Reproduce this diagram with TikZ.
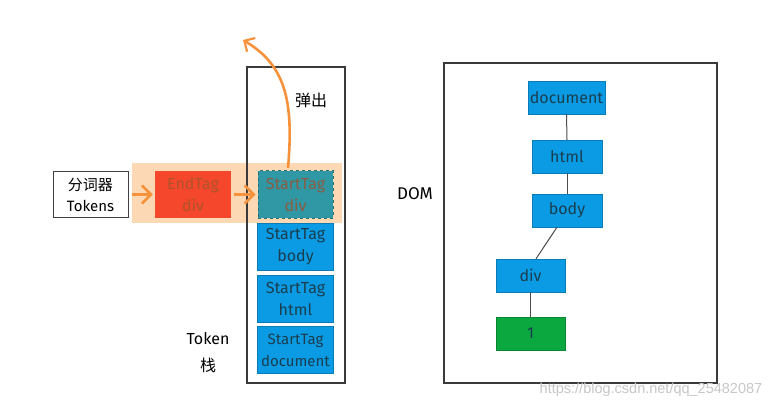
\documentclass[tikz,border=0pt]{standalone}
\usepackage{fontspec}
\setmainfont{Fira Sans}
\newfontfamily\cjk{Noto Sans CJK SC}
\newfontfamily\wm{Liberation Sans}
\usetikzlibrary{arrows.meta}
\definecolor{bluef}{HTML}{0A9BE4}
\definecolor{boxtext}{HTML}{1A3E4E}
\definecolor{greenf}{HTML}{0BA83F}
\definecolor{redf}{HTML}{F4472B}
\definecolor{tealf}{HTML}{2F98A4}
\definecolor{tealb}{HTML}{2A6E74}
\definecolor{bandc}{HTML}{FCD9B4}
\definecolor{arrc}{HTML}{F7923C}
\definecolor{endtext}{HTML}{B0532C}
\definecolor{divtext}{HTML}{8A5C42}
\definecolor{framec}{HTML}{3A3A3A}
\begin{document}
\begin{tikzpicture}[x=1pt,y=-1pt,
  every node/.style={inner sep=0pt,font=\fontsize{16}{22}\selectfont,align=center},
  tagbox/.style={fill=bluef,draw=bluef!80!black,line width=0.4pt,text=boxtext,minimum width=#1,anchor=center},
  stackbox/.style={tagbox=76pt,minimum height=47pt},
  dombox/.style={tagbox=#1,minimum height=33pt},
  frame/.style={draw=framec,line width=1.3pt},
  flow/.style={draw=arrc,line width=2.6pt,-{Straight Barb[length=9pt,width=18pt,line width=2.6pt]}},
  tree/.style={draw=black!70,line width=1pt}]
\useasboundingbox (0,0) rectangle (782,409);
\fill[white] (0,0) rectangle (782,409);
% orange band
\fill[bandc] (132,163) rectangle (342,223);
% stack frame
\draw[frame] (247,67) rectangle (345,383);
% tokenizer
\node[draw=black!75,line width=1pt,fill=white,minimum width=75pt,minimum height=45pt,font=\fontsize{15}{21}\selectfont] (tok) at (90.5,194.5) {{\cjk 分词器}\\Tokens};
\node[fill=redf,minimum width=76pt,minimum height=47pt,text=endtext] (end) at (193,194.5) {EndTag\\div};
\node[fill=tealf,draw=tealb,dashed,line width=1pt,minimum width=75pt,minimum height=47pt,text=divtext] (sdiv) at (295.5,194.5) {StartTag\\div};
\node[stackbox] (sbody) at (295.5,247) {StartTag\\body};
\node[stackbox] (shtml) at (295.5,298.5) {StartTag\\html};
\node[stackbox,font=\fontsize{15}{22}\selectfont] (sdoc) at (295.5,350) {StartTag\\document};
% arrows
\draw[flow,shorten <=3pt,shorten >=2pt] (tok.east) -- (end.west);
\draw[flow,shorten <=3pt,shorten >=2pt] (end.east) -- (sdiv.west);
\coordinate (popstart) at (288,168);
\coordinate (popend) at (243,40);
\draw[draw=arrc,line width=2.6pt,-{Straight Barb[length=8pt,width=16pt,line width=2.2pt]}] (popstart) .. controls (294,100) and (285,65) .. (popend);
% labels
\node (pop) at (311,100) {\cjk 弹出};
\node (toklbl) at (208,339) {Token};
\node (zhan) at (208,365) {\cjk 栈};
\node[font=\fontsize{17}{20}\selectfont] (domlbl) at (415,194) {DOM};
% DOM frame
\draw[frame] (444,63) rectangle (717,383);
\node[dombox=77pt] (ddoc) at (566.5,97.5) {document};
\node[dombox=70pt] (dhtml) at (567,156.5) {html};
\node[dombox=70pt] (dbody) at (567,210.5) {body};
\node[dombox=69pt] (ddiv) at (530.5,275.5) {div};
\node[dombox=69pt,fill=greenf,draw=greenf!80!black] (done) at (530.5,333.5) {1};
\draw[tree] (ddoc.south) -- (dhtml.north);
\draw[tree] (dhtml.south) -- (dbody.north);
\draw[tree] ([xshift=-10pt]dbody.south) -- ([xshift=5.5pt]ddiv.north);
\draw[tree] (ddiv.south) -- (done.north);
% watermark
\node[text=black!22,font=\wm\fontsize{14.5}{16}\selectfont] (wmark) at (651,390) {https://blog.csdn.net/qq\_25482087};
\end{tikzpicture}
\end{document}
